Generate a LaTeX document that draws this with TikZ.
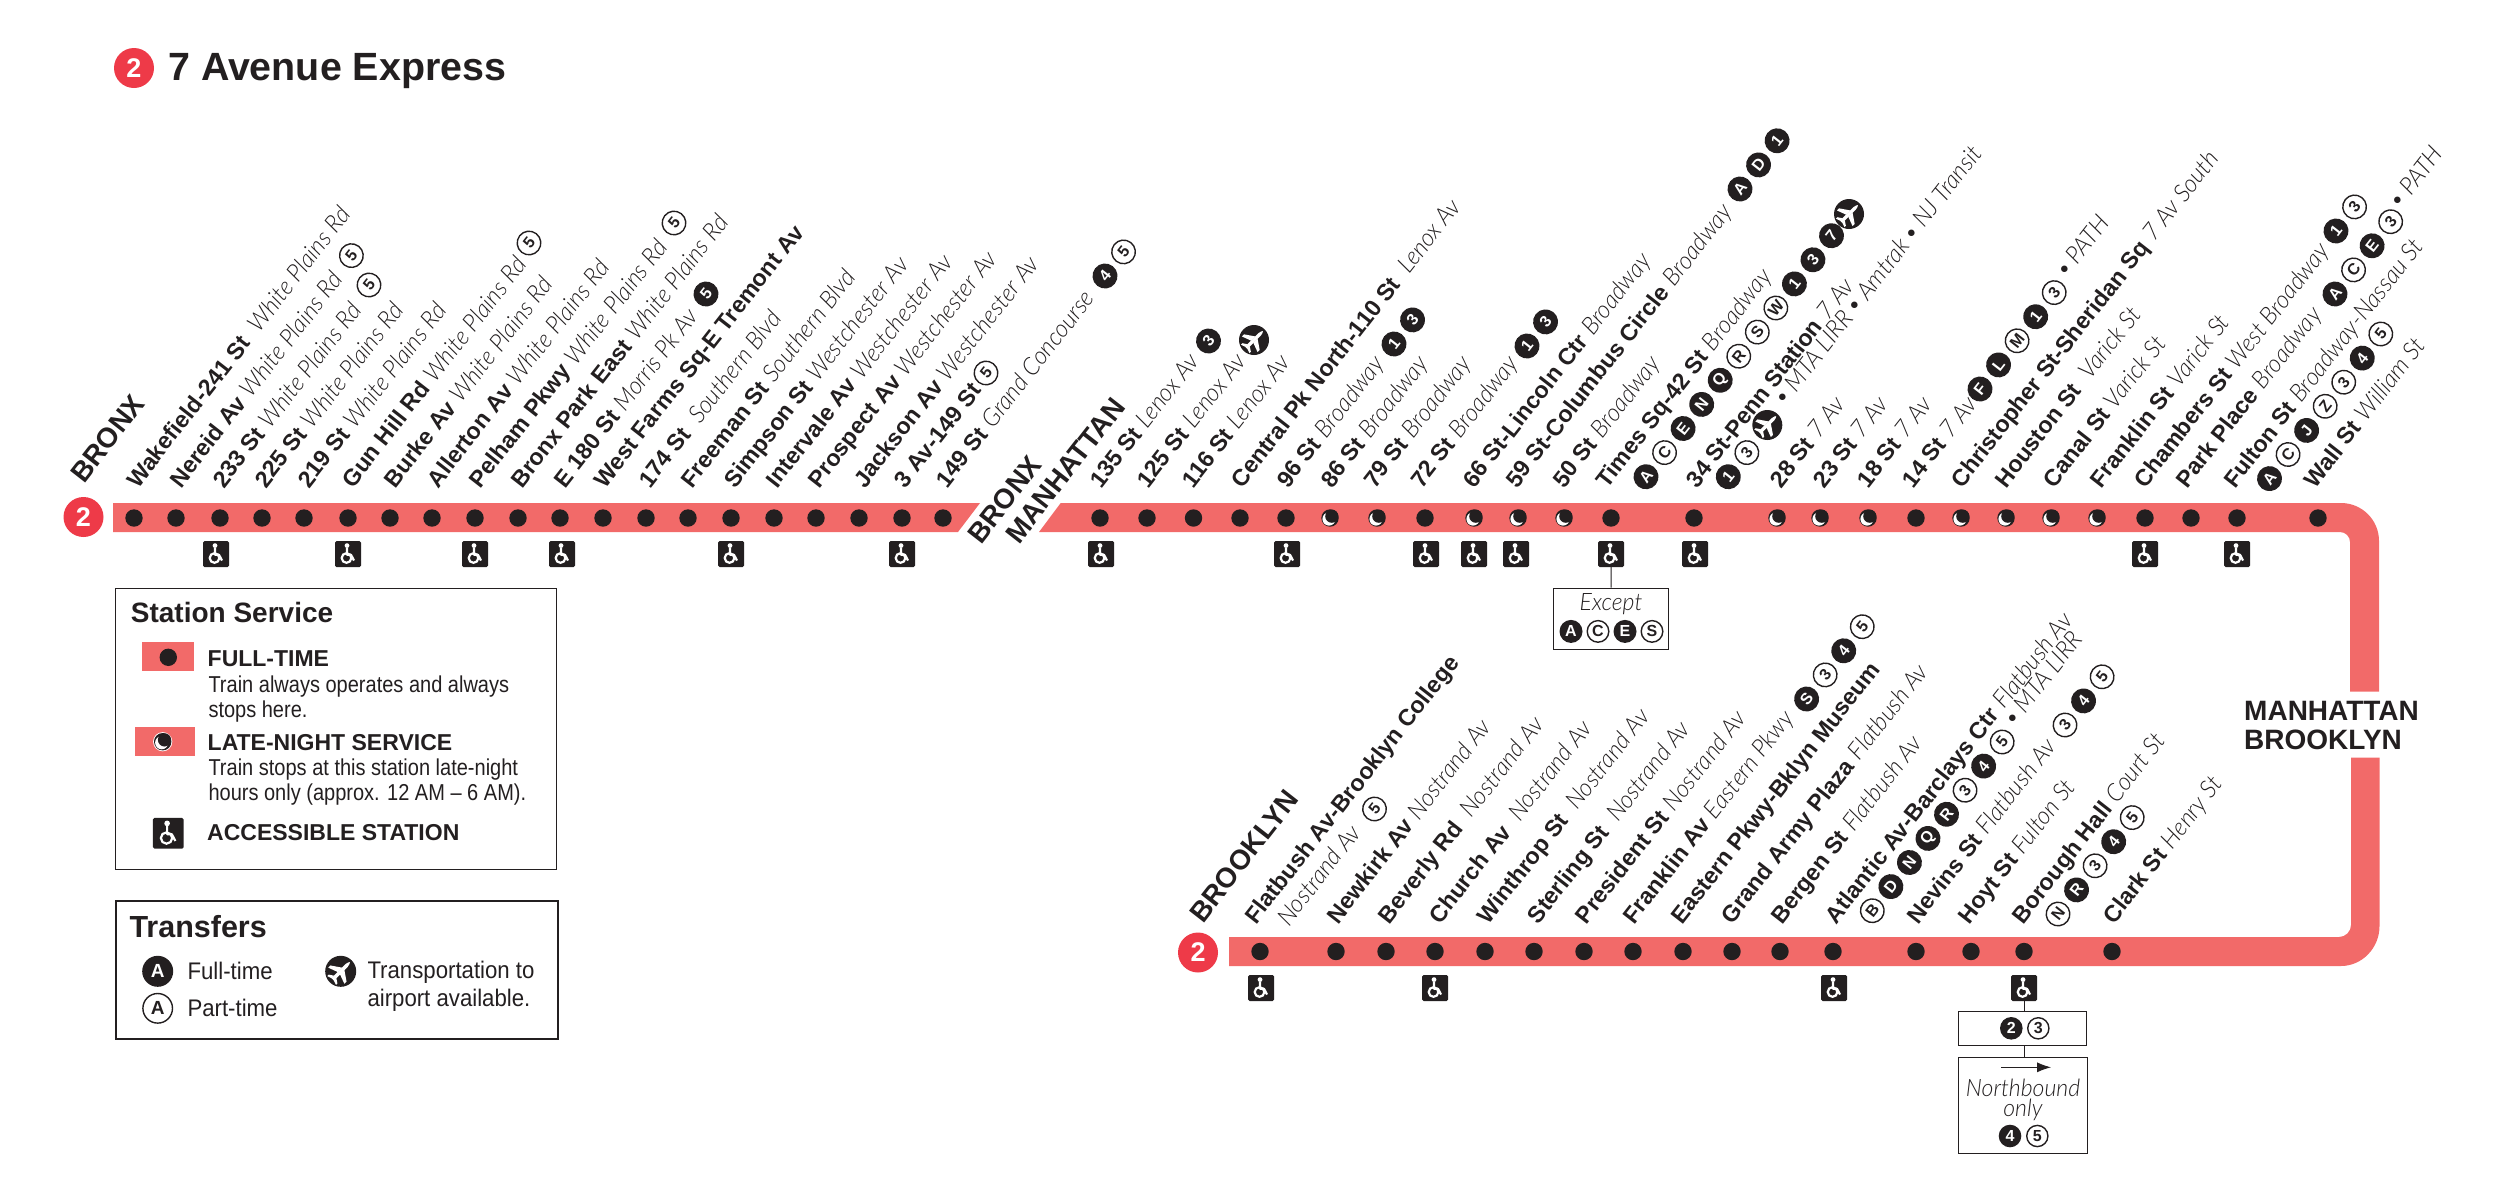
\documentclass[tikz,border=0pt]{standalone}
\usepackage{fontspec}
\setmainfont{Liberation Sans}
\newfontfamily\strfam[FakeStretch=0.96]{Lato Light Italic}
\newfontfamily\narrowfam[FakeStretch=0.87]{Liberation Sans}
\newfontfamily\trfam[FakeStretch=0.925]{Liberation Sans}
\usetikzlibrary{arrows.meta}
\definecolor{ink}{HTML}{231F20}
\definecolor{band}{HTML}{F26A69}
\definecolor{redb}{HTML}{EE3A48}
\newcount\nn
\newcommand\namef{\bfseries\fontsize{23.3}{26}\selectfont}
\newcommand\strf{\strfam\fontsize{24.5}{26}\selectfont}
\newcommand\legf{\narrowfam\fontsize{23}{25}\selectfont}
\newcommand\legb{\bfseries\fontsize{23}{25}\selectfont}
\newcommand\wide{\hspace{6pt}}
\newcommand\dotx{{\fontsize{24}{26}\rmfamily\upshape •}}
\tikzset{
  auton/.code={\global\advance\nn by 1 \tikzset{name=n\the\nn}},
  lbl/.style={auton,anchor=base west,rotate=52,inner sep=0pt,outer sep=0pt,text=ink},
  strline/.style={auton,anchor=mid west,rotate=52,inner sep=0pt,outer sep=0pt,text=ink,font=\strf},
  bulb/.style={auton,circle,fill=ink,text=white,minimum size=25pt,inner sep=0pt,font=\bfseries\fontsize{16}{16}\selectfont},
  bulw/.style={auton,circle,fill=white,draw=ink,line width=1.4pt,text=ink,minimum size=23.6pt,inner sep=0pt,font=\bfseries\fontsize{16}{16}\selectfont},
  redc/.style={auton,circle,fill=redb,text=white,minimum size=40pt,inner sep=0pt,font=\bfseries\fontsize{27}{28}\selectfont},
  legt/.style={auton,anchor=base west,inner sep=0pt,text=ink},
  accbox/.style={auton,rectangle,fill=ink,rounded corners=1.5pt,minimum size=26pt,inner sep=0pt},
  thinbox/.style={draw=ink,line width=1pt},
  captxt/.style={auton,anchor=base,inner sep=0pt,text=ink,font=\strfam\fontsize{24}{25}\selectfont}
}
\newcommand\lab[4]{\node[lbl] at (#1+12,#2) {{\namef #3}\hspace{7pt}{\strf #4}};}
\newcommand\bseq[3]{\foreach \t/\l [count=\i from 0] in {#3} {\node[bul\t,rotate=52] at (#1+18.55*\i,#2-24.1*\i) {\l};}}
\newcommand\plane[3]{%
  \fill[ink] (#1,#2) circle[radius=#3pt];
  \begin{scope}[shift={(#1,#2)},x=1pt,y=1pt,rotate=45,scale=#3/15]
    \fill[white] (-11,-1.7) -- (8,-1.7) .. controls (11,-1.5) and (12,-.5) .. (12.5,0) .. controls (12,.5) and (11,1.5) .. (8,1.7) -- (-11,1.7) -- cycle;
    \fill[white] (3.5,1.5) -- (-3,11) -- (-6,11) -- (-2.5,1.5) -- cycle;
    \fill[white] (3.5,-1.5) -- (-3,-11) -- (-6,-11) -- (-2.5,-1.5) -- cycle;
    \fill[white] (-7.5,1.5) -- (-10.5,6) -- (-12.5,6) -- (-11,1.5) -- cycle;
    \fill[white] (-7.5,-1.5) -- (-10.5,-6) -- (-12.5,-6) -- (-11,-1.5) -- cycle;
  \end{scope}}
\newcommand\moon[2]{%
  \fill[ink] (#1,#2) circle[radius=8.7pt];
  \fill[white] (#1-1,#2+1) circle[radius=6.6pt];
  \fill[ink] (#1+1.8,#2-1.8) circle[radius=6.6pt];}
\newcommand\acc[4][1]{%
  \node[accbox,minimum size=26pt*#1] (#2) at (#3,#4) {};
  \begin{scope}[shift={(#3,#4)},x=1pt,y=1pt,scale=#1]
    \fill[white] (-1,8.4) circle[radius=2.4pt];
    \draw[white,line width=2.2pt,line join=round] (-1,6) -- (-1,-.8) -- (3,-.8) -- (6,-6.5);
    \draw[white,line width=2.2pt] (-1.5,-4) circle[radius=4.8pt];
  \end{scope}}
\begin{document}
\begin{tikzpicture}[x=1pt,y=-1pt]
\useasboundingbox (0,0) rectangle (2515,1197);
% title
\node[redc] (titlec) at (134,68) {2};
\node[legt,font=\bfseries\fontsize{39.4}{40}\selectfont] (title) at (168,80) {7 Avenue Express};
% bands
\fill[band] (113,503) -- (980,503) -- (958,532) -- (113,532) -- cycle;
\fill[band] (1060.7,503) -- (2341,503) .. controls (2362,503) and (2379,520) .. (2379,541) -- (2379,691.5) -- (2350,691.5) -- (2350,542) .. controls (2350,536.5) and (2345.5,532) .. (2340,532) -- (1039,532) -- cycle;
\fill[band] (2351,757.7) -- (2379.5,757.7) -- (2379.5,926) .. controls (2379.5,948) and (2362,966) .. (2341,966) -- (1229,966) -- (1229,937) -- (2339,937) .. controls (2345.5,937) and (2351,931.5) .. (2351,925) -- cycle;
\node[redc] (startb) at (83.5,517) {2};
\node[redc] (starts) at (1198,952.5) {2};
% borough labels
\node[lbl,font=\bfseries\fontsize{28}{30}\selectfont] (bronx) at (84,484) {BRONX};
\node[lbl,font=\bfseries\fontsize{28}{30}\selectfont] (bronx2) at (981,545) {BRONX};
\node[lbl,font=\bfseries\fontsize{28}{30}\selectfont] (manh) at (1019,545) {MANHATTAN};
\node[lbl,font=\bfseries\fontsize{28}{30}\selectfont] (brook) at (1203,924) {BROOKLYN};
\node[legt,font=\bfseries\fontsize{28}{30}\selectfont] (mb1) at (2244,720.7) {MANHATTAN};
\node[legt,font=\bfseries\fontsize{28}{30}\selectfont] (mb2) at (2244,749) {BROOKLYN};
% dots
\foreach \x in {134,176,220,262,304,348,390,432,475,518,560,603,646,688,731,774,816,859,902,943,1100,1147,1193.5,1240,1286,1425,1611,1694,1916,2145,2191,2237,2318}
  \fill[ink] (\x,518) circle[radius=8.7pt];
\foreach \x in {1330,1377,1474,1518,1564,1777,1820,1868,1961,2006,2051,2097}
  {\moon{\x}{518}}
\foreach \x in {1260,1336,1386,1435,1485,1534,1584,1633,1683,1732,1780,1833,1916,1971,2024,2112}
  \fill[ink] (\x,951.5) circle[radius=8.7pt];
% accessible
\foreach \x in {216,348,475,562,731,902,1101,1287,1426,1474,1516,1611,1695,2145,2237}
  {\acc{a\x}{\x}{554}}
\foreach \x in {1261,1435,1834,2024}
  {\acc{c\x}{\x}{988}}
% top labels
\lab{126}{489}{Wakefield-241 St}{\wide White Plains Rd}
\lab{169}{489}{Nereid Av}{White Plains Rd}
\lab{212}{489}{233 St}{White Plains Rd}
\lab{254}{489}{225 St}{White Plains Rd}
\lab{297}{489}{219 St}{White Plains Rd}
\lab{341}{489}{Gun Hill Rd}{White Plains Rd}
\lab{383}{489}{Burke Av}{White Plains Rd}
\lab{426}{489}{Allerton Av}{White Plains Rd}
\lab{468}{489}{Pelham Pkwy}{White Plains Rd}
\lab{510}{489}{Bronx Park East}{White Plains Rd}
\lab{553}{489}{E 180 St}{Morris Pk Av}
\lab{593}{489}{West Farms Sq-E Tremont Av}{}
\lab{638}{489}{174 St}{\wide Southern Blvd}
\lab{680}{489}{Freeman St}{Southern Blvd}
\lab{723}{489}{Simpson St}{Westchester Av}
\lab{765}{489}{Intervale Av}{Westchester Av}
\lab{807}{489}{Prospect Av}{Westchester Av}
\lab{853}{489}{Jackson Av}{Westchester Av}
\lab{893.6}{489}{3 Av-149 St}{}
\lab{935}{489}{149 St}{Grand Concourse}
\lab{1089}{489}{135 St}{Lenox Av}
\lab{1136}{489}{125 St}{Lenox Av}
\lab{1181}{489}{116 St}{Lenox Av}
\lab{1230}{489}{Central Pk North-110 St}{\wide Lenox Av}
\lab{1276}{489}{96 St}{Broadway}
\lab{1320}{489}{86 St}{Broadway}
\lab{1363}{489}{79 St}{Broadway}
\lab{1410}{489}{72 St}{Broadway}
\lab{1462}{489}{66 St-Lincoln Ctr}{Broadway}
\lab{1505}{489}{59 St-Columbus Circle}{Broadway}
\lab{1552}{489}{50 St}{Broadway}
\lab{1595}{489}{Times Sq-42 St}{Broadway}
\lab{1685}{489}{34 St-Penn Station}{7 Av}
\lab{1769}{489}{28 St}{7 Av}
\lab{1812}{489}{23 St}{7 Av}
\lab{1856}{489}{18 St}{7 Av}
\lab{1901}{489}{14 St}{7 Av}
\lab{1950}{489}{Christopher St-Sheridan Sq}{7 Av South}
\lab{1994}{489}{Houston St}{\wide Varick St}
\lab{2042}{489}{Canal St}{Varick St}
\lab{2089}{489}{Franklin St}{Varick St}
\lab{2133}{489}{Chambers St}{West Broadway}
\lab{2175}{489}{Park Place}{Broadway}
\lab{2223}{489}{Fulton St}{Broadway-Nassau St}
\lab{2303}{489}{Wall St}{William St}
% bottom labels
\lab{1244}{925}{Flatbush Av-Brooklyn College}{}
\node[strline,anchor=base west] (nostr) at (1289,927) {Nostrand Av};
\lab{1326}{925}{Newkirk Av}{Nostrand Av}
\lab{1377}{925}{Beverly Rd}{\wide Nostrand Av}
\lab{1428}{925}{Church Av}{\wide Nostrand Av}
\lab{1476.5}{925}{Winthrop St}{\wide Nostrand Av}
\lab{1526.5}{925}{Sterling St}{\wide Nostrand Av}
\lab{1574.5}{925}{President St}{Nostrand Av}
\lab{1622}{925}{Franklin Av}{Eastern Pkwy}
\lab{1670}{925}{Eastern Pkwy-Bklyn Museum}{}
\lab{1720}{925}{Grand Army Plaza}{Flatbush Av}
\lab{1770}{925}{Bergen St}{Flatbush Av}
\lab{1824.5}{925}{Atlantic Av-Barclays Ctr}{Flatbush Av}
\lab{1906}{925}{Nevins St}{Flatbush Av}
\lab{1957}{925}{Hoyt St}{Fulton St}
\lab{2011}{925}{Borough Hall}{Court St}
\lab{2102}{925}{Clark St}{Henry St}
% bullets top
\bseq{351.4}{255.6}{w/5}
\bseq{369}{285}{w/5}
\bseq{529}{243}{w/5}
\bseq{674}{223}{w/5}
\bseq{706}{294}{b/5}
\bseq{986}{373}{w/5}
\bseq{1105}{276}{b/4,w/5}
\bseq{1208.5}{341}{b/3}
\plane{1254}{340}{15}
\bseq{1394}{344}{b/1,b/3}
\bseq{1527}{346}{b/1,b/3}
\bseq{1740}{189}{b/A,b/D,b/1}
\bseq{1646}{476.7}{b/A,w/C,b/E,b/N,b/Q,w/R,w/S,w/W,b/1,b/3,b/7}
\plane{1849}{214}{15}
\bseq{1728.3}{476.7}{b/1,w/3}
\plane{1767.3}{425}{15}
\node[strline] (penn) at (1784.5,404) {\dotx\hspace{7pt}MTA LIRR\hspace{7pt}\dotx\hspace{7pt}Amtrak\hspace{7pt}\dotx\hspace{7pt}NJ Transit};
\bseq{1980}{389}{b/F,b/L,w/M,b/1,w/3}
\node[strline] (path1) at (2066,276) {\dotx\hspace{7pt}PATH};
\bseq{2336}{231}{b/1,w/3}
\bseq{2335}{294}{b/A,w/C,b/E,w/3}
\node[strline] (path2) at (2399.5,207) {\dotx\hspace{7pt}PATH};
\bseq{2269.5}{478.6}{b/A,w/C,b/J,w/Z,w/3,b/4,w/5}
% bullets bottom
\bseq{1374.5}{809}{w/5}
\bseq{1806.6}{699}{b/S,w/3,b/4,w/5}
\bseq{1872.3}{910.7}{w/B,b/D,b/N,b/Q,b/R,w/3,b/4,w/5}
\node[strline] (lirr) at (2014,725) {\dotx\hspace{7pt}MTA LIRR};
\bseq{2065}{725}{w/3,b/4,w/5}
\bseq{2058}{914}{w/N,b/R,w/3,b/4,w/5}
% except box
\node[thinbox,auton,minimum width=115.5pt,minimum height=61pt,inner sep=0pt] (exc) at (1611.2,618.5) {};
\draw[thinbox] (a1611) -- (exc);
\node[captxt] (exct) at (1611,610) {Except};
\node[bulb,minimum size=23pt] (e1) at (1571,631.4) {A};
\node[bulw,minimum size=21.6pt] (e2) at (1598,631.4) {C};
\node[bulb,minimum size=23pt] (e3) at (1625,631.4) {E};
\node[bulw,minimum size=21.6pt] (e4) at (1652,631.4) {S};
% bottom boxes
\node[thinbox,auton,minimum width=128.4pt,minimum height=34pt,inner sep=0pt] (bx1) at (2022.5,1028.3) {};
\node[thinbox,auton,minimum width=129.4pt,minimum height=96pt,inner sep=0pt] (bx2) at (2023,1105.3) {};
\draw[thinbox] (c2024) -- (c2024 |- bx1.north);
\draw[thinbox] (c2024 |- bx1.south) -- (c2024 |- bx2.north);
\node[bulb,minimum size=22.6pt] (f1) at (2011.3,1028.3) {2};
\node[bulw,minimum size=21.2pt] (f2) at (2038.3,1028.3) {3};
\coordinate (ar1) at (2001,1067.3);
\coordinate (ar2) at (2051,1067.3);
\draw[ink,line width=.8pt,-{Latex[length=14pt,width=10pt]}] (ar1) -- (ar2);
\node[captxt] (nb1) at (2023,1096.7) {Northbound};
\node[captxt] (nb2) at (2023,1116) {only};
\node[bulb,minimum size=22.6pt] (f3) at (2010,1136) {4};
\node[bulw,minimum size=21.2pt] (f4) at (2037.3,1136) {5};
% Legend: station service
\node[thinbox,auton,minimum width=441.4pt,minimum height=281pt,inner sep=0pt] (lg1) at (336,728.8) {};
\node[legt,font=\bfseries\fontsize{28}{30}\selectfont] (lg1t) at (130.7,622) {Station Service};
\fill[band] (141.7,641.7) rectangle (194.3,671);
\fill[ink] (168.3,657.3) circle[radius=8.7pt];
\node[legt,font=\legb] (l1) at (207.5,666.7) {FULL-TIME};
\node[legt,font=\legf] (l2) at (208.3,692.3) {Train always operates and always};
\node[legt,font=\legf] (l3) at (208.3,717.3) {stops here.};
\fill[band] (135,727) rectangle (195,755.7);
\fill[white] (162.7,741.7) circle[radius=9.6pt];
\moon{162.7}{741.7}
\node[legt,font=\legb] (l4) at (207.5,750) {LATE-NIGHT SERVICE};
\node[legt,font=\legf] (l5) at (208.3,775.7) {Train stops at this station late-night};
\node[legt,font=\legf] (l6) at (208.3,800.7) {hours only (approx. 12 AM – 6 AM).};
\acc[1.18]{lacc}{168.3}{833.3}
\node[legt,font=\legb] (l7) at (207,840.7) {ACCESSIBLE STATION};
% Legend: transfers
\draw[ink,line width=2pt] (115.7,900.7) rectangle (558.3,1039.3);
\node[legt,font=\bfseries\fontsize{30.5}{32}\selectfont] (tt) at (129.3,937.3) {Transfers};
\node[bulb,minimum size=31pt,font=\bfseries\fontsize{19}{20}\selectfont] (ta) at (157.7,971.3) {A};
\node[bulw,minimum size=29.6pt,font=\bfseries\fontsize{19}{20}\selectfont] (tb) at (157.7,1008.3) {A};
\node[legt,font=\trfam\fontsize{24}{26}\selectfont] (t1) at (187.3,979) {Full-time};
\node[legt,font=\trfam\fontsize{24}{26}\selectfont] (t2) at (187.3,1016) {Part-time};
\plane{340.7}{971.3}{15.5}
\node[legt,font=\trfam\fontsize{24}{26}\selectfont] (t3) at (367.3,978.3) {Transportation to};
\node[legt,font=\trfam\fontsize{24}{26}\selectfont] (t4) at (367.3,1006) {airport available.};
\end{tikzpicture}
\end{document}
